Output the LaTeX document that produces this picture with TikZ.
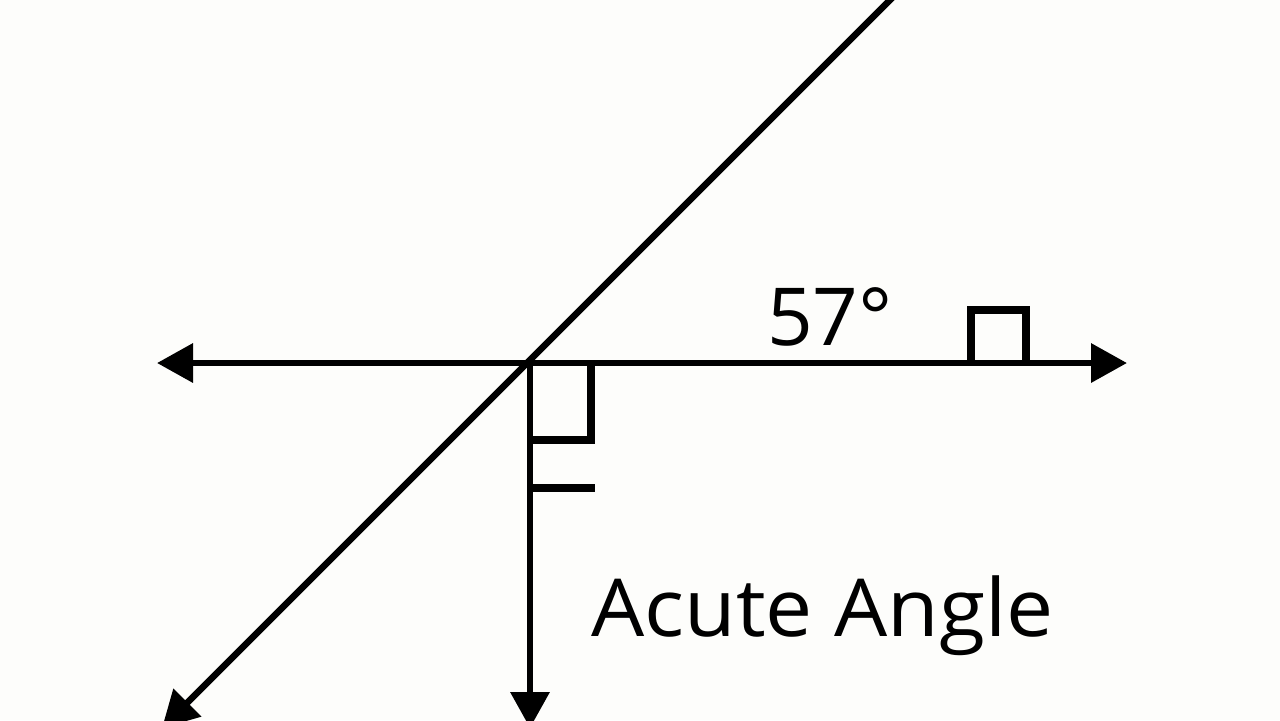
\documentclass[tikz,border=0pt]{standalone}
\usepackage{fontspec}
\setmainfont{Open Sans}
\usetikzlibrary{arrows.meta}
\definecolor{bg}{HTML}{FDFDFB}
\begin{document}
\begin{tikzpicture}[x=0.5pt,y=-0.5pt,
  ray/.style={line width=3.3pt,-{Triangle[length=18pt,width=19pt]}},
  anglemark/.style={line width=3.6pt,line cap=butt,line join=miter},
  lbl/.style={font=\fontsize{40}{48}\selectfont,inner sep=0pt}]
\fill[bg] (0,0) rectangle (1280,720);
\useasboundingbox (0,0) rectangle (1280,720);
\coordinate (O) at (527,363);
\coordinate (L) at (157,363);
\coordinate (R) at (1127,363);
\coordinate (T) at (895,-5);
\coordinate (B) at (162,728);
\coordinate (V) at (530,363);
\coordinate (D) at (530,728);
\draw[ray] (O) -- (L);
\draw[ray] (O) -- (R);
\draw[line width=3.3pt] (O) -- (T);
\draw[ray] (O) -- (B);
\draw[ray] (V) -- (D);
% right angle mark below intersection
\coordinate (s1) at (591,363);
\coordinate (s2) at (591,440);
\coordinate (s3) at (530,440);
\draw[anglemark] (s1) -- (s2) -- (s3);
% tick
\coordinate (t1) at (530,488);
\coordinate (t2) at (595,488);
\draw[anglemark] (t1) -- (t2);
% small square on the line
\coordinate (q1) at (971,363);
\coordinate (q2) at (971,310);
\coordinate (q3) at (1026,310);
\coordinate (q4) at (1026,363);
\draw[anglemark] (q1) -- (q2) -- (q3) -- (q4);
\node[lbl,anchor=base] (deg) at (830,345) {57°};
\node[lbl,anchor=base west,xscale=1.05,transform shape] (acute) at (591,636) {Acute Angle};
\end{tikzpicture}
\end{document}
